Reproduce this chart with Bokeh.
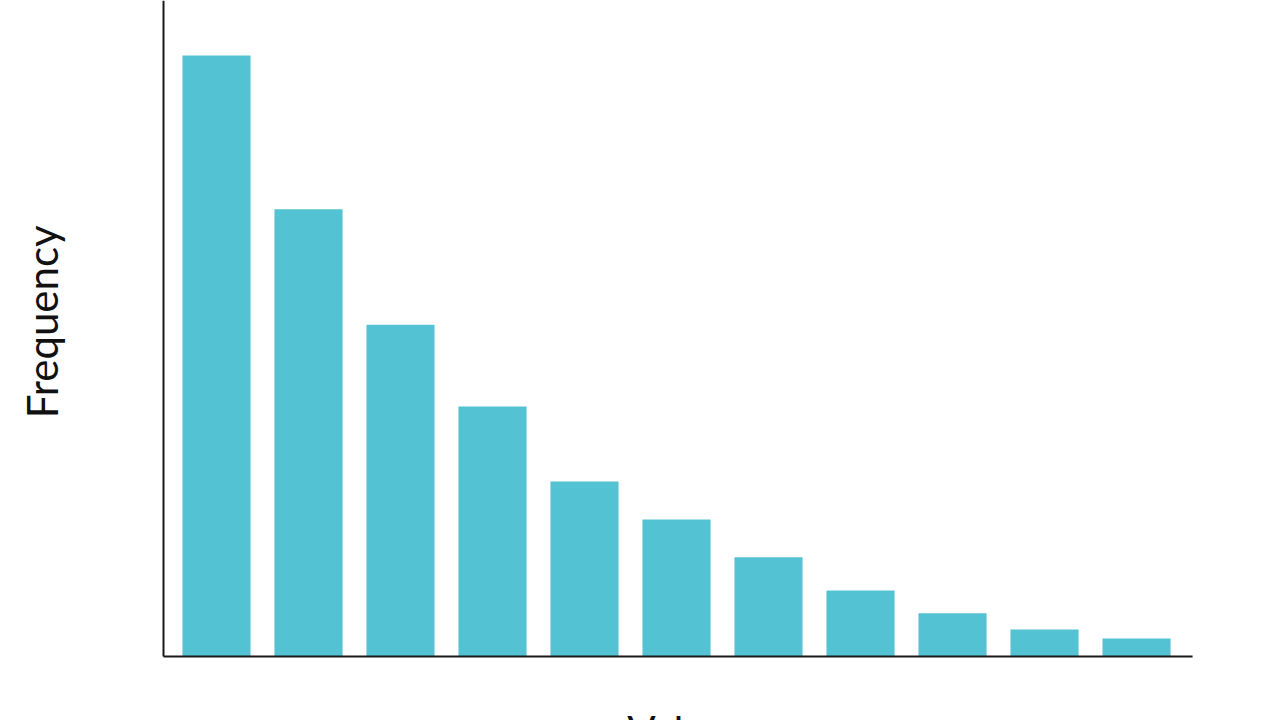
import math
from bokeh.plotting import figure
from bokeh.models import Range1d, Label, ColumnDataSource
from bokeh.embed import file_html
from bokeh.resources import INLINE

# Data (arbitrary frequency units)
values = [1, 2, 3, 4, 5, 6, 7, 8, 9, 10, 11]
frequency = [100, 74.4, 55.2, 41.6, 29.1, 22.8, 16.5, 11.0, 7.2, 4.5, 3.0]
x_label = "Value"
y_label = "Frequency"

BAR = "#53C3D3"
AXIS = "#1a1a1a"
TEXT = "#111111"
FONT = "Lato"

# axis extents (data units) and the full view range
AX_X0, AX_X1 = 0.424, 11.609
AX_Y1 = 109.15
X_START, X_END = -1.3477, 12.391
Y_START, Y_END = -10.65, 109.15

src = ColumnDataSource(data=dict(x=values, top=frequency))

p = figure(width=1264, height=720, output_backend="svg", toolbar_location=None,
           x_range=Range1d(X_START, X_END), y_range=Range1d(Y_START, Y_END),
           x_axis_location=None, y_axis_location=None,
           min_border_left=0, min_border_right=0, min_border_top=0,
           min_border_bottom=0)

p.vbar(x="x", top="top", bottom=0, width=0.74, source=src,
       fill_color=BAR, line_color=None)

p.grid.visible = False
p.outline_line_color = None
p.background_fill_color = "white"
p.border_fill_color = "white"

# axis lines
p.segment(x0=[AX_X0, AX_X0], y0=[0, 0], x1=[AX_X1, AX_X0], y1=[0, AX_Y1],
          line_color=AXIS, line_width=2)

# axis titles
p.add_layout(Label(x=(AX_X0 + AX_X1) / 2, y=-8.3, text=x_label,
                   text_align="center", text_baseline="top",
                   text_font=FONT, text_font_size="42px", text_color=TEXT))
p.add_layout(Label(x=-0.902, y=55.7, text=y_label, angle=math.pi / 2,
                   text_align="center", text_baseline="alphabetic",
                   text_font=FONT, text_font_size="42px", text_color=TEXT))

open("out.html", "w").write(file_html(p, INLINE))
